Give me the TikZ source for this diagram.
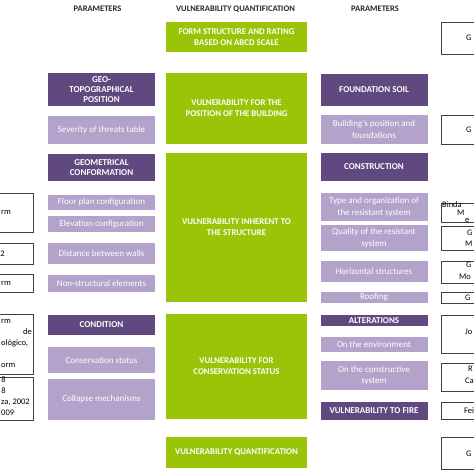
\documentclass[tikz,border=0pt]{standalone}
\usepackage{fontspec}
\setmainfont{Carlito}
\usetikzlibrary{positioning}

\definecolor{darkpurple}{RGB}{96,73,127}
\definecolor{lightpurple}{RGB}{179,162,201}
\definecolor{vgreen}{RGB}{153,196,8}
\definecolor{headgray}{RGB}{40,40,40}

\begin{document}
\begin{tikzpicture}[x=1pt,y=-1pt,
    box/.style={inner sep=1pt, align=center, text=white},
    pbox/.style={box, fill=darkpurple, minimum width=107pt, font=\bfseries\fontsize{9}{10}\selectfont},
    sbox/.style={box, fill=lightpurple, minimum width=107pt, font=\fontsize{9}{11.5}\selectfont},
    vbox/.style={box, fill=vgreen, minimum width=141pt, font=\bfseries\fontsize{8.8}{11}\selectfont},
    refbox/.style={draw=black!75, line width=0.8pt, fill=white, inner sep=0pt},
    head/.style={text=headgray, font=\bfseries\fontsize{8.5}{9}\selectfont},
    frag/.style={inner sep=0pt, text=black, font=\fontsize{8.5}{9}\selectfont}]
    \useasboundingbox (0,0) rectangle (474,474);
    \clip (0,0) rectangle (474,474);

    % Column headers
    \node[head] (hleft) at (97.5,9) {PARAMETERS};
    \node[head] (hmid) at (235.5,9) {VULNERABILITY QUANTIFICATION};
    \node[head] (hright) at (375,9) {PARAMETERS};

    % Left parameters
    \node[pbox, minimum height=33pt] (geo) at (101.5,89.5) {GEO-\\TOPOGRAPHICAL\\POSITION};
    \node[sbox, minimum height=28pt] (sev) at (101.5,130) {Severity of threats table};
    \node[pbox, minimum height=27pt] (geom) at (101.5,167.5) {GEOMETRICAL\\CONFORMATION};
    \node[sbox, minimum height=15pt] (floor) at (101.5,202.5) {Floor plan configuration};
    \node[sbox, minimum height=16pt] (elev) at (101.5,224) {Elevation configuration};
    \node[sbox, minimum height=21pt] (dist) at (101.5,253.5) {Distance between walls};
    \node[sbox, minimum height=17pt] (nonstr) at (101.5,283.5) {Non-structural elements};
    \node[pbox, minimum height=20pt] (cond) at (101.5,325) {CONDITION};
    \node[sbox, minimum height=26pt] (cons) at (101.5,360) {Conservation status};
    \node[sbox, minimum height=41pt] (coll) at (101.5,399.5) {Collapse mechanisms};

    % Vulnerability quantification
    \node[vbox, minimum height=30pt] (form) at (236.5,37) {FORM STRUCTURE AND RATING\\BASED ON ABCD SCALE};
    \node[vbox, minimum height=71pt] (vpos) at (236.5,108.5) {VULNERABILITY FOR THE\\POSITION OF THE BUILDING};
    \node[vbox, minimum height=149pt] (vinh) at (236.5,227.5) {VULNERABILITY INHERENT TO\\THE STRUCTURE};
    \node[vbox, minimum height=105pt] (vcons) at (236.5,366.5) {VULNERABILITY FOR\\CONSERVATION STATUS};
    \node[vbox, minimum height=31pt] (vquant) at (236.5,452.5) {VULNERABILITY QUANTIFICATION};

    % Right parameters
    \node[pbox, minimum height=32pt] (found) at (374,90) {FOUNDATION SOIL};
    \node[sbox, minimum height=29pt] (bpos) at (374,129.5) {Building's position and\\foundations};
    \node[pbox, minimum height=28pt] (constr) at (374,167) {CONSTRUCTION};
    \node[sbox, minimum height=28pt] (type) at (374,207) {Type and organization of\\the resistant system};
    \node[sbox, minimum height=26pt] (qual) at (374,238) {Quality of the resistant\\system};
    \node[sbox, minimum height=21pt] (horiz) at (374,271.5) {Horizontal structures};
    \node[sbox, minimum height=11pt] (roof) at (374,297.5) {Roofing};
    \node[pbox, minimum height=11pt] (alt) at (374,320.5) {ALTERATIONS};
    \node[sbox, minimum height=15pt] (env) at (374,344.5) {On the environment};
    \node[sbox, minimum height=29pt] (onsys) at (374,375.5) {On the constructive\\system};
    \node[pbox, minimum height=18pt] (fire) at (374,411) {VULNERABILITY TO FIRE};

    % Reference boxes, cut by the left edge
    \node[refbox, minimum width=73pt, minimum height=39pt] (l1) at (-3.5,212.5) {};
    \node[refbox, minimum width=73pt, minimum height=21pt] (l2) at (-3.5,253.5) {};
    \node[refbox, minimum width=73pt, minimum height=18pt] (l3) at (-3.5,283) {};
    \node[refbox, minimum width=73pt, minimum height=60pt] (l4) at (-3.5,344) {};
    \node[refbox, minimum width=73pt, minimum height=43pt] (l5) at (-3.5,398.5) {};
    \node[frag, anchor=west] (l1a) at (1,212) {rm};
    \node[frag, anchor=east] (l2a) at (5,254) {2};
    \node[frag, anchor=west] (l3a) at (1,283) {rm};
    \node[frag, anchor=west] (l4a) at (1,321) {rm};
    \node[frag, anchor=east] (l4b) at (32,332) {de};
    \node[frag, anchor=west] (l4c) at (1,343) {ológico,};
    \node[frag, anchor=west] (l4d) at (1,365) {orm};
    \node[frag, anchor=east] (l5a) at (6,380) {8};
    \node[frag, anchor=east] (l5b) at (6,391) {8};
    \node[frag, anchor=west] (l5c) at (1,402) {za, 2002};
    \node[frag, anchor=west] (l5d) at (1,413) {009};

    % Reference boxes, cut by the right edge
    \node[refbox, minimum width=79pt, minimum height=32pt] (r1) at (480.5,38) {};
    \node[refbox, minimum width=79pt, minimum height=29pt] (r2) at (480.5,129.5) {};
    \node[refbox, minimum width=79pt, minimum height=19pt] (r3) at (480.5,212.5) {};
    \node[refbox, minimum width=79pt, minimum height=24pt] (r4) at (480.5,238) {};
    \node[refbox, minimum width=79pt, minimum height=22pt] (r5) at (480.5,272) {};
    \node[refbox, minimum width=79pt, minimum height=11pt] (r6) at (480.5,297.5) {};
    \node[refbox, minimum width=79pt, minimum height=38pt] (r7) at (480.5,334) {};
    \node[refbox, minimum width=79pt, minimum height=28pt] (r8) at (480.5,377) {};
    \node[refbox, minimum width=79pt, minimum height=17pt] (r9) at (480.5,410.5) {};
    \node[refbox, minimum width=79pt, minimum height=32pt] (r10) at (480.5,453) {};
    \node[frag, anchor=west] (r1a) at (466,38) {G};
    \node[frag, anchor=west] (r2a) at (466,130) {G};
    \node[frag, anchor=west] (r3a) at (442,205) {Binda};
    \node[frag, anchor=west] (r3b) at (457,213) {M};
    \node[frag, anchor=west] (r3c) at (465,220) {e};
    \node[frag, anchor=west] (r4a) at (467,233) {G};
    \node[frag, anchor=west] (r4b) at (465,244) {M};
    \node[frag, anchor=west] (r5a) at (466,265) {G};
    \node[frag, anchor=west] (r5b) at (459,277) {Mo};
    \node[frag, anchor=west] (r6a) at (465,298) {G};
    \node[frag, anchor=west] (r7a) at (465,332) {Jo};
    \node[frag, anchor=west] (r8a) at (468,369) {R};
    \node[frag, anchor=west] (r8b) at (465,381) {Ca};
    \node[frag, anchor=west] (r9a) at (464,411) {Fei};
    \node[frag, anchor=west] (r10a) at (466,454) {G};
\end{tikzpicture}
\end{document}
